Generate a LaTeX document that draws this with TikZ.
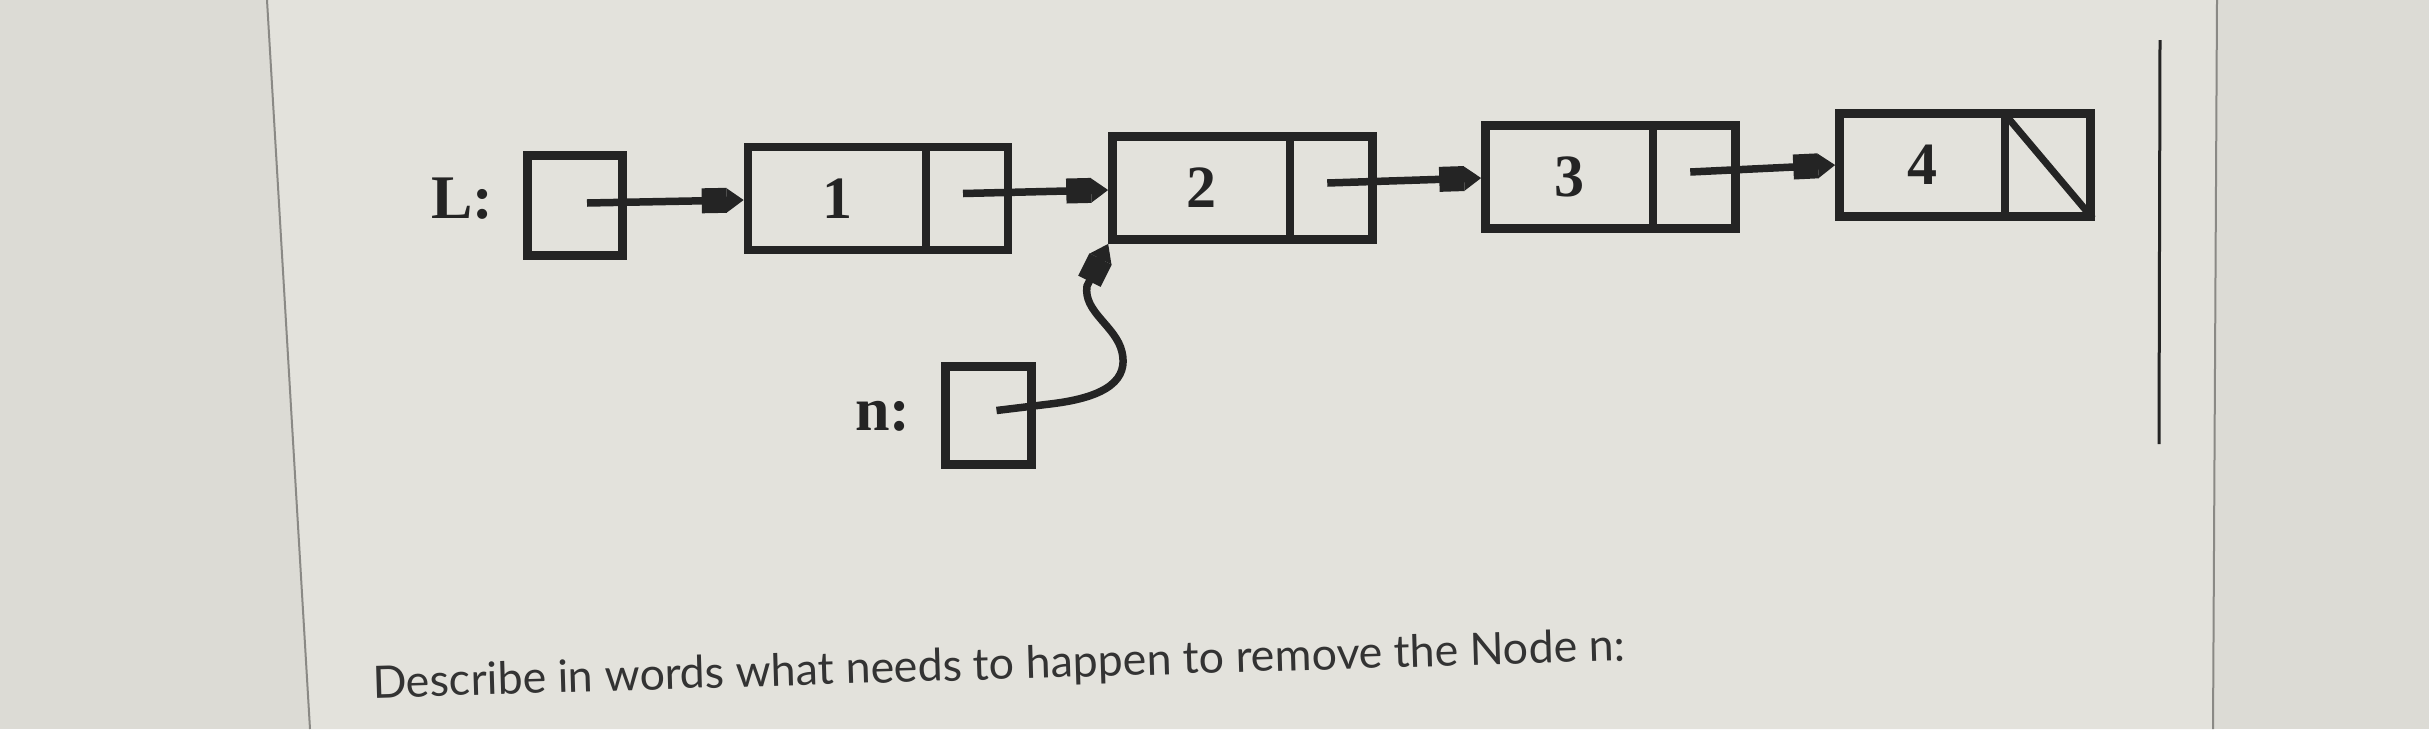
\documentclass[tikz,border=0pt]{standalone}
\usepackage{fontspec}
\setmainfont{Liberation Serif}
\newfontfamily\latofont{Lato}
\usetikzlibrary{arrows.meta,calc}
\definecolor{bgout}{HTML}{DCDBD5}
\definecolor{pagebg}{HTML}{E3E2DC}
\definecolor{edgeline}{HTML}{8A8985}
\definecolor{ink}{HTML}{242424}
\definecolor{txt}{HTML}{333333}
\tikzset{
  cell/.style={draw=ink, line width=8.5pt, inner sep=0pt, minimum height=103pt,
    font=\fontsize{60}{64}\selectfont\bfseries, text=ink},
  ptr/.style={draw=ink, line width=7.5pt,
    -{Rectangle[length=25pt,width=25pt,sep=0pt]Triangle[length=17pt,width=23pt]}},
  lbl/.style={font=\fontsize{62}{66}\selectfont\bfseries, text=ink, inner sep=0pt},
}
\begin{document}
\begin{tikzpicture}[x=1pt,y=-1pt]
\useasboundingbox (0,0) rectangle (2429,729);
\fill[bgout] (0,0) rectangle (2429,729);
\fill[pagebg] (267,0) -- (2217,0) -- (2213,729) -- (310,729) -- cycle;
\draw[edgeline, line width=2pt] (267,0) -- (310,729);
\draw[edgeline, line width=2pt] (2217,0) -- (2213,729);
\draw[ink, line width=3pt] (2160,40) -- (2159,444);

% list head
\node[lbl] (Llab) at (462,199) {L:};
\node[cell, minimum width=95pt, minimum height=100pt] (L) at (575,205.5) {};

% node 1
\node[cell, minimum width=178pt] (n1d) at (837,198.5) {1};
\node[cell, minimum width=82pt] (n1p) at (967,198.5) {};
% node 2
\node[cell, minimum width=177.5pt] (n2d) at (1201.25,188) {2};
\node[cell, minimum width=82.5pt] (n2p) at (1331.25,188) {};
% node 3
\node[cell, minimum width=167.5pt] (n3d) at (1569.25,177) {3};
\node[cell, minimum width=82.5pt] (n3p) at (1694.25,177) {};
% node 4
\node[cell, minimum width=165.5pt] (n4d) at (1922.25,165) {4};
\node[cell, minimum width=85.5pt] (n4p) at (2047.75,165) {};
\draw[ink, line width=7pt, shorten >=3pt, shorten <=3pt] (n4p.north west) -- (n4p.south east);

% n
\node[lbl] (nlab) at (883,416) {n:};
\node[cell, minimum width=86pt, minimum height=98pt] (nb) at (988.5,415.5) {};

% pointers
\draw[ptr] ([xshift=12pt,yshift=2.5pt]L.center) -- ([yshift=-1.5pt]n1d.west);
\draw[ptr] ([xshift=-4pt,yshift=5pt]n1p.center) -- ([yshift=-2pt]n2d.west);
\draw[ptr] ([xshift=-4pt,yshift=5pt]n2p.center) -- ([yshift=-1pt]n3d.west);
\draw[ptr] ([xshift=-4pt,yshift=5pt]n3p.center) -- (n4d.west);
\draw[ptr] ([xshift=8pt,yshift=5pt]nb.center) -- (1050,404)
  .. controls (1110,397) and (1128,378) .. (1122,352)
  .. controls (1116,326) and (1083,312) .. (1087,286)
  -- (n2d.south west);

% question
\node[anchor=base west, rotate=1.7, inner sep=0pt, text=txt,
  font=\latofont\fontsize{44.7}{50}\selectfont] (q) at (373,698)
  {Describe in words what needs to happen to remove the Node n:};
\end{tikzpicture}
\end{document}
